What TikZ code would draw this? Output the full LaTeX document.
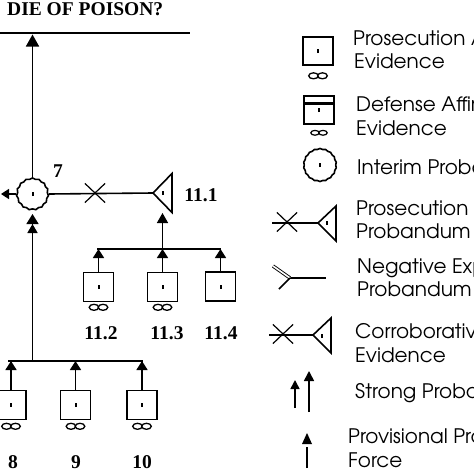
\documentclass[tikz,border=0pt]{standalone}
\usepackage{fontspec}
\setmainfont{Liberation Serif}
\newfontfamily\gothic{TeX Gyre Adventor}
\usetikzlibrary{arrows.meta,shapes.symbols,shapes.misc}
\newcommand\evdot{\rule{2pt}{4pt}}
\begin{document}
\begin{tikzpicture}[x=1pt,y=-1pt,
  ln/.style={line width=1.6pt},
  ev/.style={draw,line width=1.6pt,minimum width=30pt,minimum height=29pt,inner sep=0pt,fill=white},
  num/.style={font=\fontsize{19.5}{20}\selectfont\bfseries,inner sep=0pt},
  leg/.style={font=\gothic\fontsize{20}{20}\selectfont,anchor=base west,inner sep=0pt},
  up/.style={-{Triangle[length=9pt,width=11pt]}},
  upd/.style={-{Triangle[length=9pt,width=10pt]Triangle[length=10pt,width=12pt]}},
  xmark/.style={cross out,draw,line width=1.2pt,minimum width=19pt,minimum height=18pt,inner sep=0pt},
  interim/.style={cloud,cloud puffs=15,cloud puff arc=100,aspect=1,draw,line width=1.6pt,minimum size=32pt,inner sep=0pt,fill=white},
  inf/.pic={\draw[line width=1.3pt,fill=white] (-4.5,0) ellipse [x radius=4.8pt,y radius=3pt];
            \draw[line width=1.3pt,fill=white] (4.5,0) ellipse [x radius=4.8pt,y radius=3pt];},
  infs/.pic={\draw[line width=1.2pt,fill=white] (-4,0) ellipse [x radius=4.2pt,y radius=2.4pt];
            \draw[line width=1.2pt,fill=white] (4,0) ellipse [x radius=4.2pt,y radius=2.4pt];}
]
\useasboundingbox (0,0) rectangle (474,474);
\clip (0,0) rectangle (474,474);

% ---------- title ----------
\node[anchor=base west,inner sep=0pt,font=\fontsize{19.5}{20}\selectfont\bfseries] (title) at (7,15) {DIE OF POISON?};
\coordinate (tlA) at (0,33);
\coordinate (tlB) at (190,33);
\draw[ln] (tlA) -- (tlB);

% ---------- main graph ----------
\node[interim] (n7) at (32.5,194) {\evdot};
\node[num] (l7) at (58,171) {7};
\coordinate (topend) at (32.5,34.5);
\draw[ln,-{Triangle[length=12pt,width=13pt]}] (n7.north) -- (topend);
\coordinate (leftend) at (1,194);
\draw[ln,-{Triangle[length=8pt,width=10pt]}] (n7.west) -- (leftend);

% triangle 11.1
\coordinate (t111) at (153,193);
\draw[ln,line join=miter] (t111) -- (172,173.5) -- (172,212.5) -- cycle;
\node[inner sep=0pt] (d111) at (162.5,193) {\evdot};
\node[num] (l111) at (201,195) {11.1};
\draw[ln] (n7.east) -- (t111);
\node[xmark] (x1) at (95,193) {};

% boxes 11.2-11.4
\node[ev] (b112) at (98.5,287) {\evdot};
\node[ev] (b113) at (162.5,287) {\evdot};
\node[ev] (b114) at (220.5,286.5) {\evdot};
\pic at ([yshift=-5pt]b112.south) {inf};
\pic at ([yshift=-5pt]b113.south) {inf};
\coordinate (bar2a) at (97,249);
\coordinate (bar2b) at (221,249);
\draw[ln] (bar2a) -- (bar2b);
\draw[ln,up] (b112.north) -- (b112.north |- bar2a);
\draw[ln,up] (b113.north) -- (b113.north |- bar2a);
\draw[ln,up] (b114.north) -- (b114.north |- bar2a);
\coordinate (j2) at (162.5,249);
\coordinate (t111b) at (162.5,213);
\draw[ln,-{Triangle[length=10pt,width=11pt]}] (j2) -- (t111b);
\node[num] (l112) at (101,333) {11.2};
\node[num] (l113) at (167,333) {11.3};
\node[num] (l114) at (221,333) {11.4};

% boxes 8-10
\node[ev] (b8) at (11,405) {\evdot};
\node[ev] (b9) at (75.5,405) {\evdot};
\node[ev] (b10) at (142,405) {\evdot};
\pic at ([yshift=-6pt]b8.south) {inf};
\pic at ([yshift=-6pt]b9.south) {inf};
\pic at ([yshift=-6pt]b10.south) {inf};
\coordinate (bar3a) at (8,361);
\coordinate (bar3b) at (143,361);
\draw[ln] (bar3a) -- (bar3b);
\draw[ln,up] (b8.north) -- (b8.north |- bar3a);
\draw[ln,up] (b9.north) -- (b9.north |- bar3a);
\draw[ln,up] (b10.north) -- (b10.north |- bar3a);
\coordinate (j3) at (32.5,361);
\coordinate (n7b) at (32.5,214);
\draw[ln,upd] (j3) -- (n7b);
\node[num] (l8) at (13,462) {8};
\node[num] (l9) at (76,462) {9};
\node[num] (l10) at (142,462) {10};

% ---------- legend ----------
% 1 prosecution evidence
\node[ev,minimum height=28pt] (k1) at (318,51) {\evdot};
\pic at ([yshift=-10pt]k1.south) {inf};
\node[leg] (k1a) at (353,45) {Prosecution A};
\node[leg] (k1b) at (354,68) {Evidence};
% 2 defense
\node[ev,minimum height=28pt] (k2) at (319,110) {\raisebox{-3pt}{\evdot}};
\draw[line width=3pt] ([yshift=-8pt]k2.north west) -- ([yshift=-8pt]k2.north east);
\pic at ([yshift=-8pt]k2.south) {infs};
\node[leg] (k2a) at (356,111) {Defense Affir};
\node[leg] (k2b) at (356,135) {Evidence};
% 3 interim
\node[interim,minimum size=33pt,cloud puffs=18,cloud puff arc=80] (k3) at (320,165) {\evdot};
\node[leg] (k3a) at (357,174) {Interim Probo};
% 4 prosecution probandum
\coordinate (k4s) at (272,223);
\coordinate (k4t) at (318,223);
\draw[ln] (k4s) -- (k4t);
\draw[ln,line join=miter] (k4t) -- (336,206) -- (336,241) -- cycle;
\node[inner sep=0pt] (k4d) at (327,223) {\evdot};
\node[xmark] (k4x) at (287,222) {};
\node[leg] (k4a) at (356,215) {Prosecution};
\node[leg] (k4b) at (356,238) {Probandum};
% 5 negative
\coordinate (k5a) at (290,278);
\coordinate (k5b) at (326,278);
\coordinate (k5c) at (273,266);
\coordinate (k5d) at (279,289);
\draw[ln] (k5a) -- (k5b);
\draw[line width=0.9pt,double distance=1.6pt] (k5a) -- (k5c);
\draw[ln] (k5a) -- (k5d);
\node[leg] (k5e) at (357,273) {Negative Exp};
\node[leg] (k5f) at (357,296) {Probandum};
% 6 corroborative
\coordinate (k6s) at (269,335);
\coordinate (k6t) at (313,335);
\draw[ln] (k6s) -- (k6t);
\draw[ln,line join=miter] (k6t) -- (331,318) -- (331,353) -- cycle;
\node[inner sep=0pt] (k6d) at (322,336) {\evdot};
\node[xmark] (k6x) at (283,334) {};
\node[leg] (k6a) at (355,338) {Corroborativ};
\node[leg] (k6b) at (355,362) {Evidence};
% 7 strong
\coordinate (k7a) at (295,408);
\coordinate (k7b) at (295,380);
\coordinate (k7c) at (309,412);
\coordinate (k7d) at (309,371);
\draw[ln,-{Triangle[length=9pt,width=9pt]}] (k7a) -- (k7b);
\draw[ln,-{Triangle[length=10pt,width=10pt]}] (k7c) -- (k7d);
\node[leg] (k7e) at (355,398) {Strong Probo};
% 8 provisional
\coordinate (k8a) at (307,468);
\coordinate (k8b) at (307,447);
\coordinate (k8t) at (307,433);
\draw[ln] (k8a) -- (k8b);
\fill (k8t) -- ++(5,11) -- ++(-10,0) -- cycle;
\node[leg] (k8c) at (348,443) {Provisional Pro};
\node[leg] (k8d) at (348,467) {Force};
\end{tikzpicture}
\end{document}
